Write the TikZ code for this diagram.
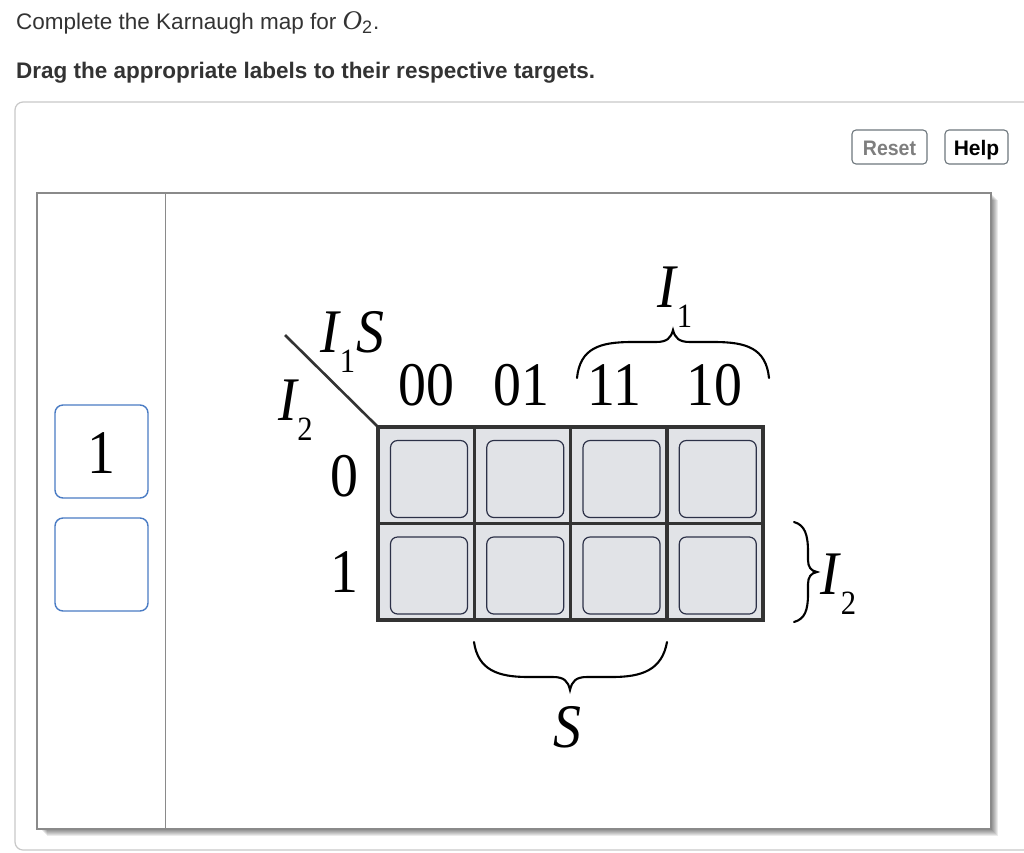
\documentclass[tikz,border=0pt]{standalone}
\usepackage{fontspec}
\setmainfont{Liberation Sans}
\newfontfamily\serifK{Liberation Serif}
\usepackage{graphicx}
\definecolor{txt}{HTML}{333333}
\definecolor{panelgray}{HTML}{C8C8C8}
\definecolor{innergray}{HTML}{8A8A8A}
\definecolor{kfill}{HTML}{E1E3E7}
\definecolor{kline}{HTML}{333333}
\definecolor{kbox}{HTML}{2C3148}
\definecolor{blueb}{HTML}{4A7CC4}
\definecolor{btnb}{HTML}{6E777D}
\definecolor{resett}{HTML}{7E7E7E}
\newcommand{\kfnt}{\serifK\fontsize{62}{62}\selectfont}
\newcommand{\kt}[1]{\scalebox{0.9}[1]{\kfnt #1}}
\newcommand{\ksub}[1]{\raisebox{-20pt}{\scalebox{0.9}[1]{\serifK\fontsize{34}{34}\selectfont #1}}}
\newcommand{\kI}{{\itshape I}}
\tikzset{
  cellbox/.style={draw=kbox, line width=1.2pt, fill=kfill, rounded corners=7pt},
  labelbox/.style={draw=blueb, line width=1.4pt, fill=white, rounded corners=8pt},
  klabel/.style={inner sep=0pt, anchor=base},
  brace/.style={line width=2.1pt, line cap=round},
  btn/.style={draw=btnb, line width=1.1pt, rounded corners=4pt, fill=white}
}
\begin{document}
\begin{tikzpicture}[x=1pt,y=-1pt]
\useasboundingbox (0,0) rectangle (1024,852);
\fill[white] (0,0) rectangle (1024,852);

% header texts
\node[anchor=base west, inner sep=0pt, text=txt, font=\fontsize{22.5}{26}\selectfont] (title) at (16,29)
  {Complete the Karnaugh map for {\serifK\itshape\fontsize{27}{27}\selectfont O}\raisebox{-4pt}{\fontsize{18}{18}\selectfont 2}\kern1pt.};
\node[anchor=base west, inner sep=0pt, text=txt, font=\bfseries\fontsize{22.5}{26}\selectfont] (instr) at (16,78)
  {Drag the appropriate labels to their respective targets.};

% outer panel
\draw[panelgray, line width=1.2pt, rounded corners=8pt] (1040,850) -- (15,850) -- (15,102) -- (1040,102);

% buttons
\draw[btn] (852,130) rectangle (927,164);
\node[text=resett, font=\bfseries\fontsize{21}{21}\selectfont, inner sep=0pt, anchor=base] (reset) at (889.5,155) {\scalebox{0.93}[1]{Reset}};
\draw[btn] (945,130) rectangle (1008,164);
\node[text=black, font=\bfseries\fontsize{21}{21}\selectfont, inner sep=0pt, anchor=base] (help) at (976.5,155) {Help};

% inner panel shadow
\foreach \i in {1,...,7} {
  \fill[black, opacity=0.08] (37+\i+3, 193+\i) rectangle (991+\i, 829+\i);
}
\fill[white] (37,193) rectangle (991,829);
\draw[innergray, line width=1.6pt] (37,193) rectangle (991,829);
\draw[innergray, line width=1pt] (165,193) -- (165,829);

% label boxes
\draw[labelbox] (55,405) rectangle (148,498);
\node[klabel] (lab1) at (101.5,473) {\kt{1}};
\draw[labelbox] (55,518) rectangle (148,611);

% K-map grid
\fill[kfill] (378,427) rectangle (763,620);
\foreach \c in {0,1,2,3} {
  \foreach \r/\y in {0/427,1/523.5} {
    \draw[cellbox] (378+\c*96.25+12.5, \y+13.5) rectangle (378+\c*96.25+89.5, \y+90.5);
  }
}
\draw[kline, line width=3.5pt] (378,427) rectangle (763,620);
\draw[kline, line width=3.5pt] (378,523.5) -- (763,523.5);
\foreach \c in {1,2,3} {
  \draw[kline, line width=3.5pt] (378+\c*96.25,427) -- (378+\c*96.25,620);
}
\coordinate (gridTL) at (378,427);
\coordinate (diagTop) at (285,335);
\draw[kline, line width=2.6pt] (diagTop) -- (gridTL);

% column and row labels
\node[klabel] (c00) at (426.5,405) {\kt{00}};
\node[klabel] (c01) at (521.5,405) {\kt{01}};
\node[klabel] (c11) at (614.5,405) {\kt{11}};
\node[klabel] (c10) at (714,405) {\kt{10}};
\node[klabel] (r0) at (344,496) {\kt{0}};
\node[klabel] (r1) at (344,592) {\kt{1}};

% variable labels
\node[klabel, anchor=base west] (i1s) at (320,352) {\kt{\kI}\kern1pt\ksub{1}\kern1pt\kt{\itshape S}};
\node[klabel, anchor=base west] (i2l) at (278,420) {\kt{\kI}\kern0.5pt\ksub{2}};
\node[klabel, anchor=base west] (i1t) at (657,307) {\kt{\kI}\kern1pt\ksub{1}};
\node[klabel, anchor=base west] (i2r) at (820,594) {\kt{\kI}\kern2pt\ksub{2}};
\node[klabel] (sb) at (567,747) {\kt{\itshape S}};

% braces
\draw[brace] (577,378) .. controls (580,348) and (600,342) .. (632,342) -- (656,342)
  .. controls (667,342) and (671,338) .. (673,330)
  .. controls (675,338) and (679,342) .. (690,342) -- (714,342)
  .. controls (746,342) and (766,348) .. (769,378);
\draw[brace] (474,642) .. controls (478,670) and (498,677) .. (528,677) -- (553,677)
  .. controls (564,677) and (568,681) .. (570,690)
  .. controls (572,681) and (576,677) .. (587,677) -- (612,677)
  .. controls (642,677) and (662,670) .. (667,642);
\draw[brace] (794,522) .. controls (805,525) and (808,535) .. (808,552) -- (808,560)
  .. controls (808,567) and (811,571) .. (817,572)
  .. controls (811,573) and (808,577) .. (808,584) -- (808,594)
  .. controls (808,610) and (805,619) .. (794,622);
\end{tikzpicture}
\end{document}
